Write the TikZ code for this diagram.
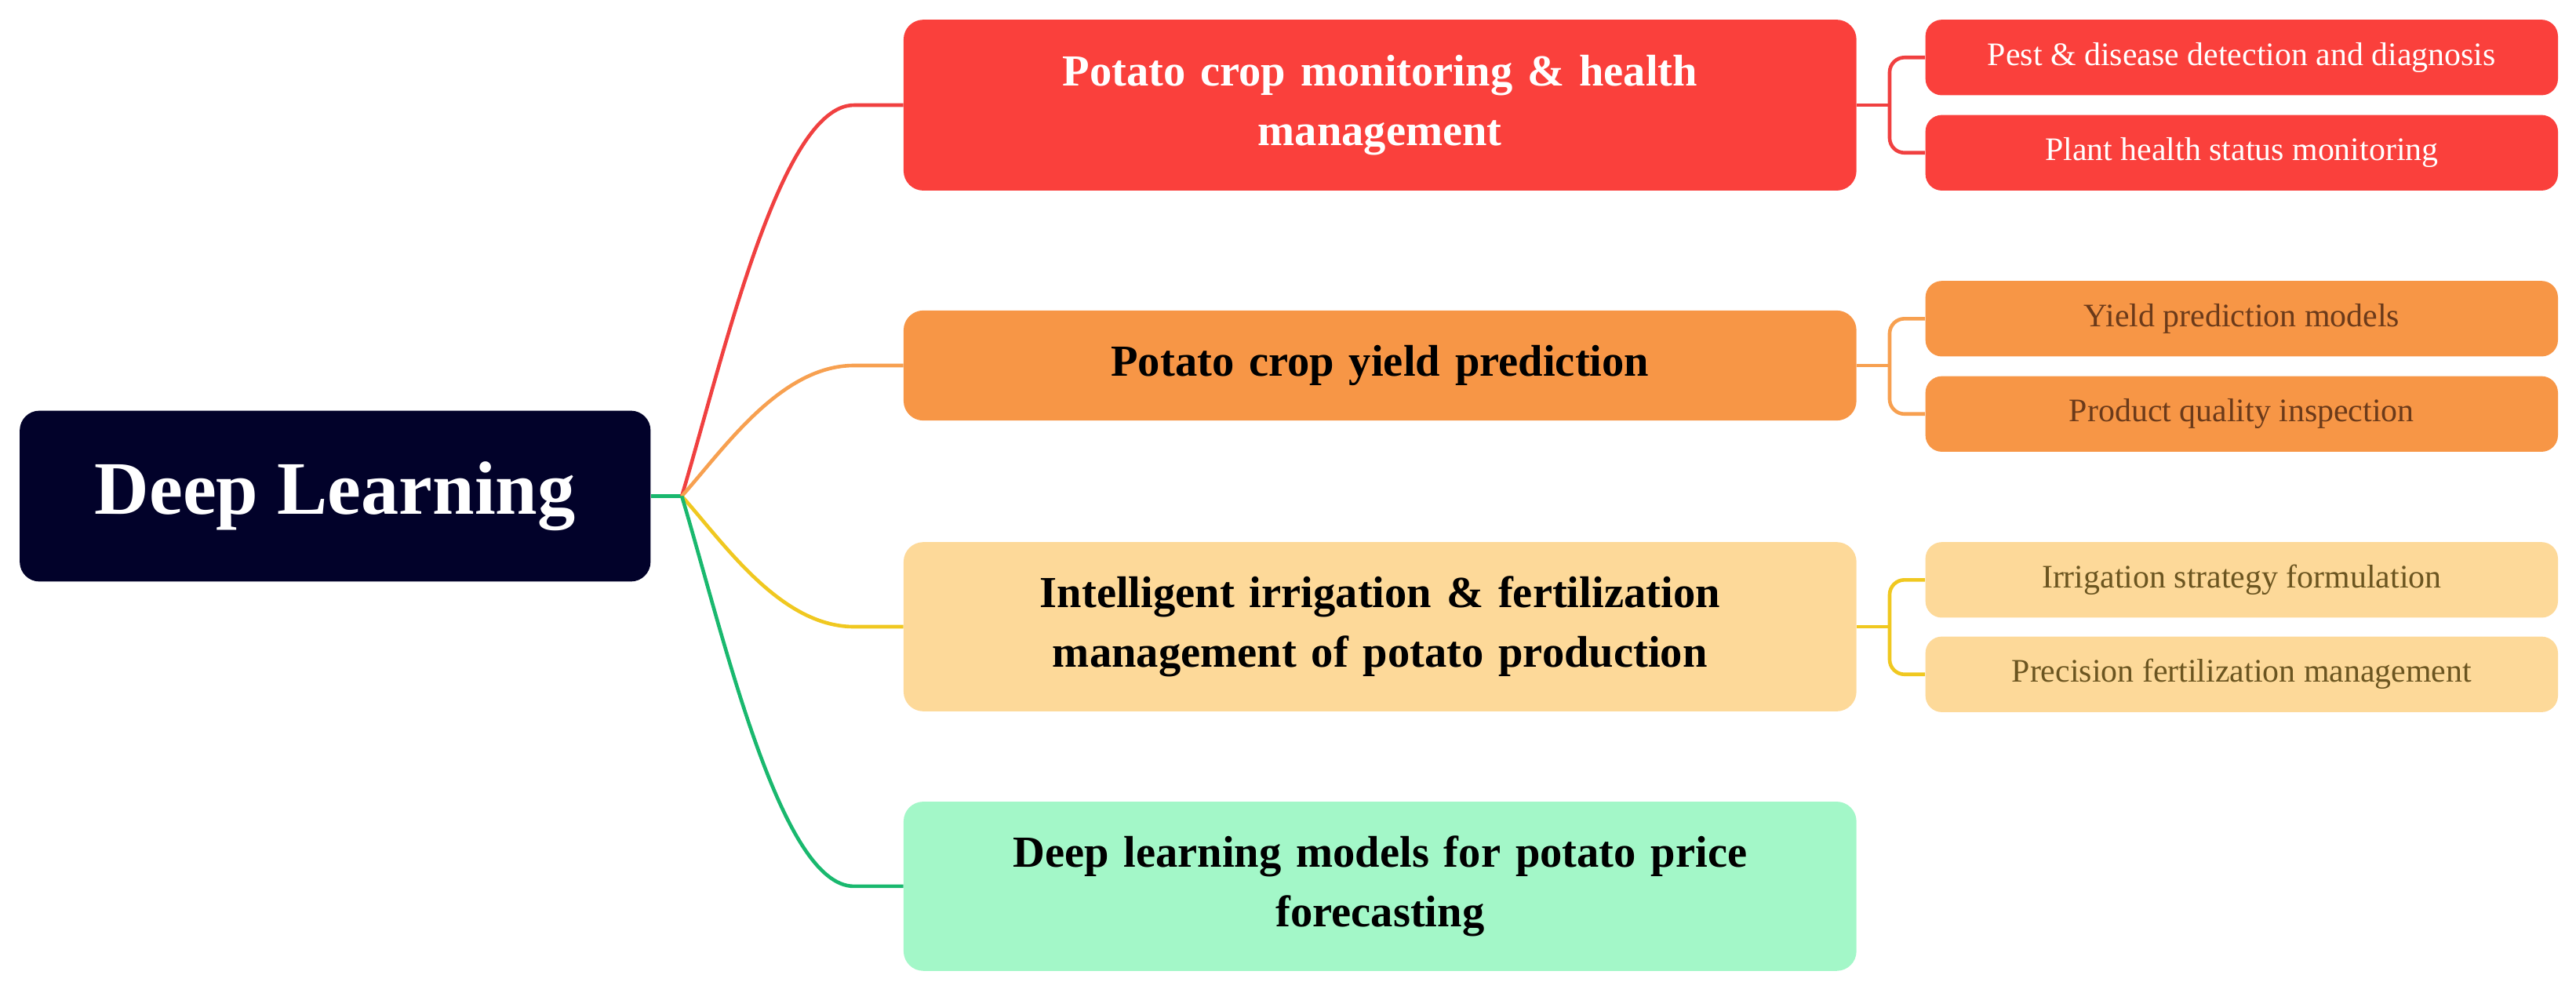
\documentclass[tikz,border=0pt]{standalone}
\usepackage{fontspec}
\setmainfont{Liberation Serif}
\usetikzlibrary{calc}
\definecolor{navy}{HTML}{02022A}
\definecolor{cred}{HTML}{FA403C}
\definecolor{corange}{HTML}{F79646}
\definecolor{clight}{HTML}{FDD999}
\definecolor{cmint}{HTML}{A3F7C8}
\definecolor{lred}{HTML}{F04040}
\definecolor{lorange}{HTML}{F7A050}
\definecolor{lyellow}{HTML}{F0C820}
\definecolor{lgreen}{HTML}{19B86E}
\definecolor{tbrown}{HTML}{6B3A1A}
\definecolor{tolive}{HTML}{6B5520}
\begin{document}
\begin{tikzpicture}[x=1pt,y=-1pt,
  box/.style={rounded corners=12pt,inner sep=0pt,align=center,font=\bfseries},
  br/.style={box,minimum width=580pt,text width=540pt,font=\bfseries\fontsize{27}{36}\selectfont},
  lf/.style={box,rounded corners=10pt,minimum width=385pt,minimum height=46pt,font=\fontsize{20}{24}\selectfont},
  conn/.style={line width=2.2pt}]
\useasboundingbox (0,0) rectangle (1568,604);
\node[box,fill=navy,text=white,minimum width=384pt,minimum height=104pt,font=\bfseries\fontsize{46}{50}\selectfont] (root) at (204,302) {Deep Learning};
\node[br,fill=cred,text=white,minimum height=104pt] (b1) at (840,64) {Potato crop monitoring \& health\\management};
\node[br,fill=corange,text=black,minimum height=67pt] (b2) at (840,222.5) {Potato crop yield prediction};
\node[br,fill=clight,text=black,minimum height=103pt] (b3) at (840,381.5) {Intelligent irrigation \& fertilization\\management of potato production};
\node[br,fill=cmint,text=black,minimum height=103pt] (b4) at (840,539.5) {Deep learning models for potato price\\forecasting};
\node[lf,fill=cred,text=white] (l1a) at (1364.5,35) {Pest \& disease detection and diagnosis};
\node[lf,fill=cred,text=white] (l1b) at (1364.5,93) {Plant health status monitoring};
\node[lf,fill=corange,text=tbrown] (l2a) at (1364.5,194) {Yield prediction models};
\node[lf,fill=corange,text=tbrown] (l2b) at (1364.5,252) {Product quality inspection};
\node[lf,fill=clight,text=tolive] (l3a) at (1364.5,353) {Irrigation strategy formulation};
\node[lf,fill=clight,text=tolive] (l3b) at (1364.5,410.5) {Precision fertilization management};
\coordinate (hub) at (415,302);
\draw[conn,lgreen] (root.east) -- (hub);
\foreach \b/\c in {b1/lred,b2/lorange,b3/lyellow,b4/lgreen}{
  \draw[conn,\c] (hub) .. controls ($(hub)!0.35!(hub|-\b.west)+(25,0)$) and ($(\b.west)+(-75,0)$) .. ($(\b.west)+(-30,0)$) -- (\b.west);
}
\foreach \b/\x/\y/\c in {b1/l1a/l1b/lred,b2/l2a/l2b/lorange,b3/l3a/l3b/lyellow}{
  \coordinate (m\b) at ($(\b.east)+(20,0)$);
  \draw[conn,\c] (\b.east) -- (m\b);
  \draw[conn,\c,rounded corners=9pt] (\x.west) -| (m\b) |- (\y.west);
}
\end{tikzpicture}
\end{document}
